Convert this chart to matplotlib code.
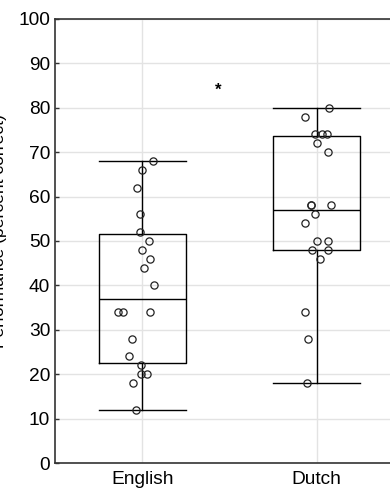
import matplotlib
matplotlib.use('Agg')
import matplotlib.pyplot as plt

plt.rcParams['font.family'] = ['Liberation Sans', 'DejaVu Sans']

# groups
groups = ['English', 'Dutch']

# individual scores (percent correct)
english = [68, 66, 62, 56, 52, 50, 48, 46, 44, 40, 34, 34, 34, 28, 24, 22, 20, 20, 18, 12]
dutch = [80, 78, 74, 74, 74, 72, 70, 58, 58, 58, 56, 54, 50, 50, 48, 48, 46, 34, 28, 18]

# horizontal jitter of each point (in group units)
english_jit = [0.063, 0.0, -0.029, -0.011, -0.011, 0.040, 0.0, 0.046, 0.011, 0.069,
               -0.138, -0.109, 0.046, -0.057, -0.074, -0.006, -0.006, 0.029, -0.052, -0.034]
dutch_jit = [0.071, -0.069, -0.011, 0.029, 0.057, 0.0, 0.063, -0.034, -0.031, 0.080,
             -0.010, -0.069, 0.0, 0.063, -0.029, 0.063, 0.017, -0.069, -0.050, -0.056]

# box statistics
whislo = [12, 18]
q1 = [22.5, 48]
med = [37, 57]
q3 = [51.5, 73.7]
whishi = [68, 80]

signif_x = 1.434
signif_y = 84.0

fig = plt.figure(figsize=(3.9, 4.92), dpi=100)
ax = fig.add_axes([55 / 390, 29 / 492, 349 / 390, 444 / 492])

ax.set_xlim(0.5, 2.5)
ax.set_ylim(0, 100)
ax.set_yticks(range(0, 101, 10))
ax.set_xticks([1, 2])
ax.set_xticklabels(groups)
ax.grid(True, color='#e3e3e3', linewidth=1.0)
ax.set_axisbelow(True)

stats = []
for i in range(len(groups)):
    stats.append({'whislo': whislo[i], 'q1': q1[i], 'med': med[i], 'q3': q3[i],
                  'whishi': whishi[i], 'fliers': []})
line = {'color': 'black', 'linewidth': 1.0}
ax.bxp(stats, positions=[1, 2], widths=0.5, showfliers=False,
       boxprops=line, medianprops=line, whiskerprops=line, capprops=line,
       capwidths=0.5, manage_ticks=False)

for pos, vals, jit in [(1, english, english_jit), (2, dutch, dutch_jit)]:
    xs = [pos + j for j in jit]
    ax.plot(xs, vals, 'o', markerfacecolor='none', markeredgecolor='#222222',
            markersize=5.2, markeredgewidth=0.9, zorder=4)

ax.text(signif_x, signif_y, '*', ha='center', va='center', fontsize=12,
        fontweight='bold')

# y label sits half outside the figure, as in the original
fig.text(7 / 390, 1 - 231.5 / 492, 'Performance (percent correct)', rotation=90,
         ha='right', va='center', fontsize=12.6)

ax.tick_params(direction='in', length=3, width=1, labelsize=13.8, color='#333333')
ax.tick_params(axis='x', length=0, pad=6)
for s in ax.spines.values():
    s.set_color('#333333')
    s.set_linewidth(1.2)

fig.savefig('out.png', dpi=100)
